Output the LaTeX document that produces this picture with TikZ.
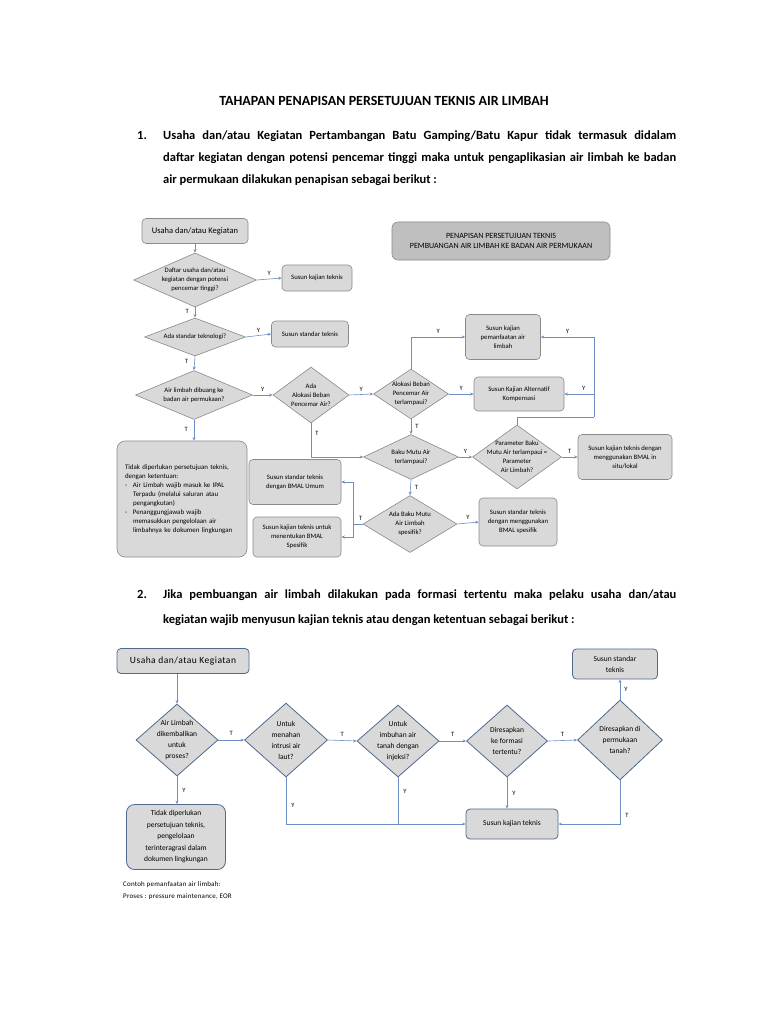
\documentclass[tikz,border=0pt]{standalone}
\usepackage{fontspec}
\setmainfont{Carlito}
\usetikzlibrary{shapes.geometric,arrows.meta,calc}
\definecolor{bfill}{HTML}{D9D9D9}
\definecolor{hfill}{HTML}{BFBFBF}
\definecolor{bord}{HTML}{8A8A8A}
\definecolor{bordb}{HTML}{4F6A8C}
\definecolor{linec}{HTML}{6F8FC4}
\newcommand{\fs}[2]{\fontsize{#1}{#2}\selectfont}
\tikzset{
  boxn/.style={draw=bord, fill=bfill, rounded corners=4pt, line width=0.6pt, align=center, inner sep=1pt, font=\fs{6.7}{9}},
  boxb/.style={boxn, draw=bordb, line width=0.8pt, font=\fs{7.5}{11}},
  dian/.style={diamond, draw=bord, fill=bfill, line width=0.6pt, inner sep=0pt},
  diab/.style={dian, draw=bordb, line width=0.8pt},
  dlab/.style={align=center, inner sep=0pt, font=\fs{6.7}{9}},
  dlabb/.style={align=center, inner sep=0pt, font=\fs{7.5}{11}},
  conn/.style={draw=linec, line width=0.6pt, -{Stealth[length=3.5pt,width=3pt]}},
  plain/.style={draw=linec, line width=0.6pt},
  yt/.style={inner sep=0pt, font=\fs{6.5}{8}},
  body/.style={anchor=base west, inner sep=0pt, font=\bfseries\fs{12.5}{16}},
}
\begin{document}
\begin{tikzpicture}[x=1pt,y=-1pt]
\useasboundingbox (0,0) rectangle (768,1024);
\fill[white] (0,0) rectangle (768,1024);

% ---------- text ----------
\node[anchor=base, inner sep=0pt, font=\bfseries\fs{14}{16}] (title) at (384,106) {TAHAPAN PENAPISAN PERSETUJUAN TEKNIS AIR LIMBAH};
\node[body] (n1) at (137,140) {1.};
\node[body] (p1a) at (163,140) {\makebox[513pt][s]{Usaha dan/atau Kegiatan Pertambangan Batu Gamping/Batu Kapur tidak termasuk didalam}};
\node[body] (p1b) at (163,162) {\makebox[513pt][s]{daftar kegiatan dengan potensi pencemar tinggi maka untuk pengaplikasian air limbah ke badan}};
\node[body] (p1c) at (163,184) {air permukaan dilakukan penapisan sebagai berikut :};

\node[body] (n2) at (137,598) {2.};
\node[body] (p2a) at (163,598) {\makebox[513pt][s]{Jika pembuangan air limbah dilakukan pada formasi tertentu maka pelaku usaha dan/atau}};
\node[body] (p2b) at (163,623) {kegiatan wajib menyusun kajian teknis atau dengan ketentuan sebagai berikut :};

% ---------- diagram 1 ----------
\node[boxn, minimum width=106pt, minimum height=25pt, font=\fs{8.5}{10}] (u1) at (195,231) {Usaha dan/atau Kegiatan};
\node[boxn, fill=hfill, rounded corners=6pt, minimum width=218pt, minimum height=38pt, font=\fs{8}{10.5}] (hdr) at (501,241) {PENAPISAN PERSETUJUAN TEKNIS\\PEMBUANGAN AIR LIMBAH KE BADAN AIR PERMUKAAN};

\node[dian, minimum width=123pt, minimum height=54pt, label={[dlab]center:{Daftar usaha dan/atau\\kegiatan dengan potensi\\pencemar tinggi?}}] (d1) at (195,280) {};
\node[boxn, minimum width=70pt, minimum height=26pt] (skt) at (317,278) {Susun kajian teknis};
\node[dian, minimum width=101pt, minimum height=38pt, label={[dlab]center:{Ada standar teknologi?}}] (d2) at (195,337) {};
\node[boxn, minimum width=77pt, minimum height=26pt] (sst) at (310,334) {Susun standar teknis};
\node[dian, minimum width=117pt, minimum height=49pt, label={[dlab]center:{Air limbah dibuang ke\\badan air permukaan?}}] (d3) at (194,395) {};
\node[dian, minimum width=76pt, minimum height=56pt, label={[dlab]center:{Ada\\Alokasi Beban\\Pencemar Air?}}] (d4) at (311,395) {};
\node[dian, minimum width=75pt, minimum height=50pt, label={[dlab]center:{Alokasi Beban\\Pencemar Air\\terlampaui?}}] (d5) at (411,394) {};
\node[boxn, minimum width=75pt, minimum height=45pt] (pem) at (503,337) {Susun kajian\\pemanfaatan air\\limbah};
\node[boxn, minimum width=90pt, minimum height=34pt] (alt) at (519,394) {Susun Kajian Alternatif\\Kompensasi};
\node[dian, minimum width=95pt, minimum height=45pt, label={[dlab]center:{Baku Mutu Air\\terlampaui?}}] (d7) at (411,457) {};
\node[dian, minimum width=89pt, minimum height=64pt, label={[dlab]center:{Parameter Baku\\Mutu Air terlampaui =\\Parameter\\Air Limbah?}}] (d6) at (517,457) {};
\node[boxn, minimum width=94pt, minimum height=45pt] (insitu) at (625,457) {Susun kajian teknis dengan\\menggunakan BMAL in\\situ/lokal};
\node[dian, minimum width=94pt, minimum height=57pt, label={[dlab]center:{Ada Baku Mutu\\Air Limbah\\spesifik?}}] (d8) at (410,524) {};
\node[boxn, minimum width=78pt, minimum height=48pt] (spes) at (518,522) {Susun standar teknis\\dengan menggunakan\\BMAL spesifik};
\node[boxn, minimum width=92pt, minimum height=45pt] (umum) at (295,482) {Susun standar teknis\\dengan BMAL Umum};
\node[boxn, minimum width=88pt, minimum height=40pt] (bmal) at (297,537) {Susun kajian teknis untuk\\menentukan  BMAL\\Spesifik};
\node[boxn, rounded corners=8pt, text width=114pt, minimum height=116pt, align=left, inner sep=8pt, font=\fs{6.9}{9}] (tidak) at (182,499) {Tidak diperlukan persetujuan teknis,\\dengan ketentuan:\\\makebox[8pt][l]{-}Air Limbah wajib masuk ke IPAL\\\hspace*{8pt}Terpadu (melalui saluran atau\\\hspace*{8pt}pengangkutan)\\\makebox[8pt][l]{-}Penanggungjawab wajib\\\hspace*{8pt}memasukkan pengelolaan air\\\hspace*{8pt}limbahnya ke dokumen lingkungan};

\draw[conn] (u1.south) -- (d1.north);
\draw[conn] (d1.east) -- node[yt, above=3pt]{Y} (skt.west);
\draw[conn] (d1.south) -- node[yt, left=6pt, pos=0.4]{T} (d2.north);
\draw[conn] (d2.east) -- node[yt, above=3pt]{Y} (sst.west);
\draw[conn] (d2.south) -- node[yt, left=6pt, pos=0.4]{T} (d3.north);
\draw[conn] (d3.east) -- node[yt, above=3pt]{Y} (d4.west);
\draw[conn] (d3.south) -- node[yt, left=6pt, pos=0.45]{T} (d3.south |- tidak.north);
\draw[conn] (d4.east) -- node[yt, above=3pt]{Y} (d5.west);
\draw[conn] (d5.north) |- node[yt, above=3pt, pos=0.75]{Y} (pem.west);
\draw[conn] (d5.east) -- node[yt, above=3pt]{Y} (alt.west);
\draw[conn] (d5.south) -- node[yt, right=4pt, pos=0.5]{T} (d7.north);
\draw[conn] (d4.south) |- node[yt, right=4pt, pos=0.15]{T} (d7.west);
\coordinate (rt) at (594,417);
\draw[plain] (d6.north) |- (rt);
\draw[conn] (rt) |- node[yt, above=3pt, pos=0.75]{Y} (pem.east);
\draw[conn] (rt |- alt.east) -- node[yt, above=3pt, pos=0.35]{Y} (alt.east);
\draw[conn] (d7.east) -- node[yt, above=3pt]{Y} (d6.west);
\draw[conn] (d6.east) -- node[yt, above=3pt]{T} (insitu.west);
\draw[conn] (d7.south) -- node[yt, right=4pt]{T} (d8.north);
\draw[conn] (d8.east) -- node[yt, above=3pt]{Y} (spes.west);
\coordinate (lt) at (353,524);
\draw[plain] (d8.west) -- node[yt, above=3pt, pos=0.2]{T} (lt);
\draw[conn] (lt) |- (umum.east);
\draw[conn] (lt) |- (bmal.east);

% ---------- diagram 2 ----------
\node[boxb, minimum width=132pt, minimum height=25pt, font=\fs{9.5}{11}\addfontfeature{LetterSpace=5}] (u2) at (183,661) {Usaha dan/atau Kegiatan};
\node[diab, minimum width=82pt, minimum height=72pt, label={[dlabb]center:{Air Limbah\\dikembalikan\\untuk\\proses?}}] (da) at (177,740) {};
\node[diab, minimum width=83pt, minimum height=74pt, label={[dlabb]center:{Untuk\\menahan\\intrusi air\\laut?}}] (db) at (286,740) {};
\node[diab, minimum width=82pt, minimum height=72pt, label={[dlabb]center:{Untuk\\imbuhan air\\tanah dengan\\injeksi?}}] (dc) at (398,741) {};
\node[diab, minimum width=81pt, minimum height=72pt, label={[dlabb]center:{Diresapkan\\ke formasi\\tertentu?}}] (dd) at (507,741) {};
\node[diab, minimum width=85pt, minimum height=80pt, label={[dlabb]center:{Diresapkan di\\permukaan\\tanah?}}] (de) at (620,740) {};
\node[boxb, minimum width=85pt, minimum height=30pt] (sst2) at (615,664) {Susun standar\\teknis};
\node[boxb, rounded corners=8pt, minimum width=99pt, minimum height=65pt, font=\fs{7.5}{11.5}] (tidak2) at (176,837) {Tidak diperlukan\\persetujuan teknis,\\pengelolaan\\terinteragrasi dalam\\dokumen lingkungan};
\node[boxb, minimum width=92pt, minimum height=30pt] (skt2) at (512,824) {Susun kajian teknis};
\node[anchor=north west, align=left, inner sep=0pt, font=\fs{7}{12.5}\addfontfeature{LetterSpace=3}] (cap) at (123,881) {Contoh pemanfaatan air limbah:\\Proses : pressure maintenance,  EOR};

\draw[conn] (da.north |- u2.south) -- (da.north);
\draw[conn] (da.east) -- node[yt, above=4pt]{T} (db.west);
\draw[conn] (db.east) -- node[yt, above=4pt]{T} (dc.west);
\draw[conn] (dc.east) -- node[yt, above=4pt]{T} (dd.west);
\draw[conn] (dd.east) -- node[yt, above=4pt]{T} (de.west);
\draw[conn] (de.north) -- node[yt, right=4pt]{Y} (de.north |- sst2.south);
\draw[conn] (da.south) -- node[yt, right=5pt]{Y} (da.south |- tidak2.north);
\draw[conn] (db.south) |- node[yt, right=5pt, pos=0.3]{Y} (skt2.west);
\draw[plain] (dc.south) -- node[yt, right=5pt, pos=0.3]{Y} (dc.south |- skt2.west);
\draw[conn] (dd.south) -- node[yt, right=5pt]{Y} (dd.south |- skt2.north);
\draw[conn] (de.south) |- node[yt, right=5pt, pos=0.4]{T} (skt2.east);
\end{tikzpicture}
\end{document}
